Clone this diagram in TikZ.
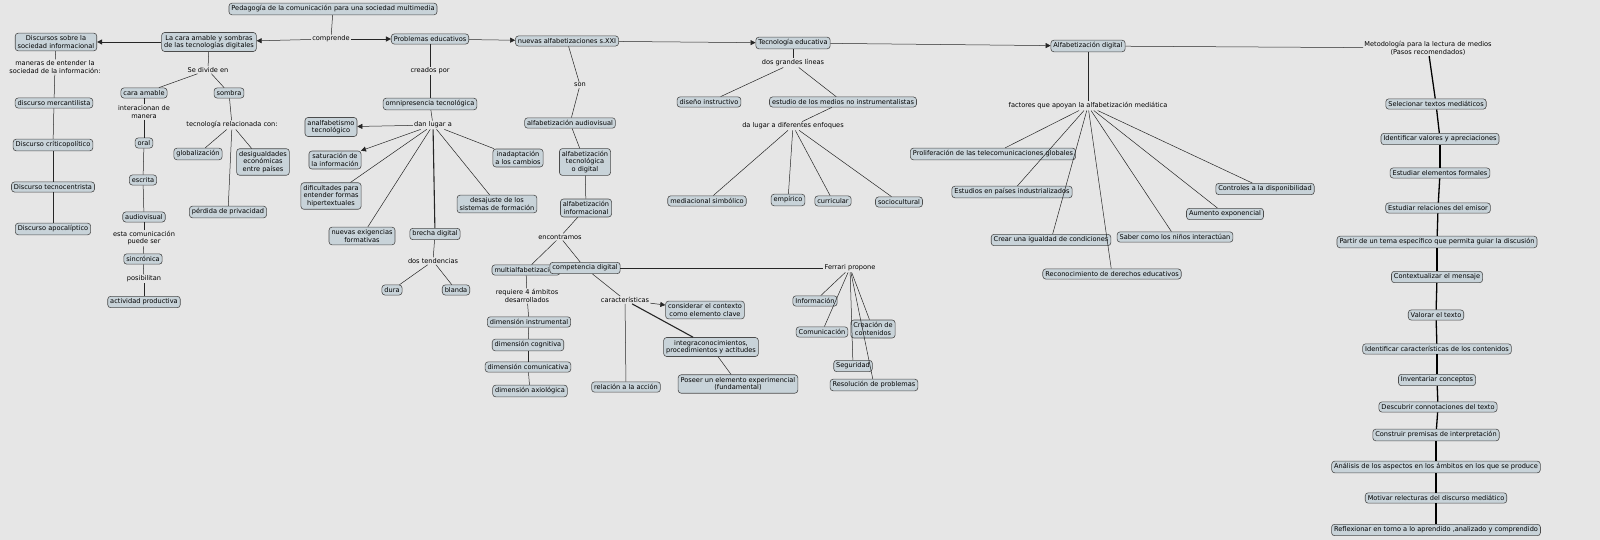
\documentclass[tikz,border=0pt]{standalone}
\usepackage{fontspec}
\setmainfont{DejaVu Sans}
\usetikzlibrary{arrows.meta}
\definecolor{bg}{RGB}{230,230,230}
\definecolor{boxc}{RGB}{200,211,217}
\begin{document}
\begin{tikzpicture}[x=1pt,y=-1pt,
 bx/.style={draw=black!70,fill=boxc,rounded corners=3pt,align=center,font=\fontsize{6.6}{7.6}\selectfont,inner sep=2.5pt,line width=0.6pt},
 lb/.style={align=center,font=\fontsize{6.6}{7.6}\selectfont,inner sep=1pt,fill=bg},
 ln/.style={draw=black!85,line width=0.5pt},
 ar/.style={ln,-{Triangle[length=5pt,width=5pt]}},
 tk/.style={draw=black,line width=1.3pt}]
\fill[bg] (0,0) rectangle (1600,540);
\useasboundingbox (0,0) rectangle (1600,540);
% top
\node[bx] (title) at (333,9) {Pedagogía de la comunicación para una sociedad multimedia};
\node[lb] (compr) at (331,39) {comprende};
\node[bx] (cara) at (209,42) {La cara amable y sombras\\de las tecnologías digitales};
\node[bx] (disc) at (56,42) {Discursos sobre la\\sociedad informacional};
\node[bx] (prob) at (430,39) {Problemas educativos};
\node[bx] (nuev) at (567,41) {nuevas alfabetizaciones s.XXI};
\node[bx] (tec) at (793,43) {Tecnología educativa};
\node[bx] (alfd) at (1088,46) {Alfabetización digital};
\node[lb] (met) at (1428,48) {Metodología para la lectura de medios\\(Pasos recomendados)};
\draw[ln] (title) -- (compr);
\draw[ar] (compr) -- (cara);
\draw[ar] (compr) -- (prob);
\draw[ar] (cara) -- (disc);
\draw[ar] (prob) -- (nuev);
\draw[ar] (nuev) -- (tec);
\draw[ar] (tec) -- (alfd);
\draw[ln] (alfd) -- (met);
% left
\node[lb] (maner) at (55,67) {maneras de entender la\\sociedad de la información:};
\node[bx] (d1) at (54,103) {discurso mercantilista};
\node[bx] (d2) at (53,145) {Discurso críticopolítico};
\node[bx] (d3) at (53,187) {Discurso tecnocentrista};
\node[bx] (d4) at (53,229) {Discurso apocalíptico};
\draw[ln] (disc)--(maner); \draw[ln] (maner)--(d1); \draw[ln] (d1)--(d2); \draw[ln] (d2)--(d3); \draw[ln] (d3)--(d4);
\node[lb] (sedi) at (208,70) {Se divide en};
\node[bx] (cam) at (144,93) {cara amable};
\node[bx] (somb) at (229,93) {sombra};
\draw[ln] (cara)--(sedi); \draw[ln] (sedi)--(cam); \draw[ln] (sedi)--(somb);
\node[lb] (inter) at (144,112) {interacionan de\\manera};
\node[bx] (oral) at (144,143) {oral};
\node[bx] (escr) at (143,180) {escrita};
\node[bx] (audv) at (144,217) {audiovisual};
\node[lb] (esta) at (144,238) {esta comunicación\\puede ser};
\node[bx] (sinc) at (143,259) {sincrónica};
\node[lb] (posib) at (144,279) {posibilitan};
\node[bx] (activ) at (144,302) {actividad productiva};
\draw[ln] (cam)--(inter); \draw[ln] (inter)--(oral); \draw[ln] (oral)--(escr); \draw[ln] (escr)--(audv);
\draw[ln] (audv)--(esta); \draw[ln] (esta)--(sinc); \draw[ln] (sinc)--(posib); \draw[ln] (posib)--(activ);
\node[lb] (trel) at (232,125) {tecnología relacionada con:};
\node[bx] (glob) at (198,154) {globalización};
\node[bx] (desig) at (263,162) {desigualdades\\económicas\\entre países};
\node[bx] (perd) at (228,212) {pérdida de privacidad};
\draw[ln] (somb)--(trel); \draw[ln] (trel)--(glob); \draw[ln] (trel)--(desig); \draw[ln] (trel)--(perd);
% problemas
\node[lb] (crea) at (430,71) {creados por};
\node[bx] (omni) at (430,104) {omnipresencia tecnológica};
\node[lb] (dan) at (433,125) {dan lugar a};
\node[bx] (analf) at (331,127) {analfabetismo\\tecnológico};
\node[bx] (satur) at (335,160) {saturación de\\la información};
\node[bx] (dific) at (331,196) {dificultades para\\entender formas\\hipertextuales};
\node[bx] (nexig) at (362,236) {nuevas exigencias\\formativas};
\node[bx] (brech) at (435,234) {brecha digital};
\node[bx] (inad) at (518,158) {inadaptación\\a los cambios};
\node[bx] (desaj) at (497,204) {desajuste de los\\sistemas de formación};
\node[lb] (dost) at (433,261) {dos tendencias};
\node[bx] (dura) at (392,290) {dura};
\node[bx] (bland) at (456,290) {blanda};
\draw[ln] (prob)--(crea); \draw[ln] (crea)--(omni); \draw[ln] (omni)--(dan);
\draw[ar] (dan)--(analf); \draw[ar] (dan)--(satur);
\draw[ln] (dan)--(dific); \draw[ln] (dan)--(nexig); \draw[ln,line width=1.1pt] (dan)--(brech);
\draw[ln] (dan)--(inad); \draw[ln] (dan)--(desaj);
\draw[ln] (brech)--(dost); \draw[ln] (dost)--(dura); \draw[ln] (dost)--(bland);
% nuevas alfabetizaciones
\node[lb] (son) at (580,85) {son};
\node[bx] (aav) at (570,123) {alfabetización audiovisual};
\node[bx] (atd) at (585,162) {alfabetización\\tecnológica\\o digital};
\node[bx] (ainf) at (586,208) {alfabetización\\informacional};
\node[lb] (enc) at (560,237) {encontramos};
\node[bx] (multi) at (526,270) {multialfabetización};
\node[bx] (comp) at (585,268) {competencia digital};
\draw[ln] (nuev)--(son); \draw[ln] (son)--(aav); \draw[ln] (aav)--(atd); \draw[ln] (atd)--(ainf);
\draw[ln] (ainf)--(enc); \draw[ln] (enc)--(multi); \draw[ln] (enc)--(comp);
\node[lb] (req) at (527,296) {requiere 4 ámbitos\\desarrollados};
\node[bx] (di1) at (529,322) {dimensión instrumental};
\node[bx] (di2) at (528,345) {dimensión cognitiva};
\node[bx] (di3) at (528,367) {dimensión comunicativa};
\node[bx] (di4) at (530,391) {dimensión axiológica};
\draw[ln] (multi)--(req); \draw[ln] (req)--(di1); \draw[ln] (di1)--(di2); \draw[ln] (di2)--(di3); \draw[ln] (di3)--(di4);
\node[lb] (carac) at (625,300) {características};
\node[bx] (cons) at (705,310) {considerar el contexto\\como elemento clave};
\node[bx] (integ) at (711,347) {integraconocimientos,\\procedimientos y actitudes};
\node[bx] (rel) at (626,387) {relación a la acción};
\node[bx] (pose) at (738,384) {Poseer un elemento experimencial\\(fundamental)};
\draw[ln] (comp)--(carac); \draw[ar] (carac)--(cons); \draw[ln,line width=1.1pt] (carac)--(integ);
\draw[ln] (carac)--(rel); \draw[ln] (integ)--(pose);
\node[lb] (ferr) at (850,268) {Ferrari propone};
\node[bx] (info) at (815,301) {Información};
\node[bx] (comu) at (822,332) {Comunicación};
\node[bx] (creac) at (873,329) {Creación de\\contenidos};
\node[bx] (seg) at (853,366) {Seguridad};
\node[bx] (resol) at (874,385) {Resolución de problemas};
\draw[ln] (comp)--(ferr); \draw[ln] (ferr)--(info); \draw[ln] (ferr)--(comu); \draw[ln] (ferr)--(creac);
\draw[ln] (ferr)--(seg); \draw[ln] (ferr)--(resol);
% tecnologia educativa
\node[lb] (dosg) at (793,63) {dos grandes líneas};
\node[bx] (dise) at (709,102) {diseño instructivo};
\node[bx] (estu) at (843,102) {estudio de los medios no instrumentalistas};
\node[lb] (dalu) at (793,126) {da lugar a diferentes enfoques};
\node[bx] (medi) at (707,201) {mediacional simbólico};
\node[bx] (empi) at (788,200) {empírico};
\node[bx] (curr) at (833,201) {curricular};
\node[bx] (soci) at (899,202) {sociocultural};
\draw[ln] (tec)--(dosg); \draw[ln] (dosg)--(dise); \draw[ln] (dosg)--(estu);
\draw[ln] (estu)--(dalu); \draw[ln] (dalu)--(medi); \draw[ln] (dalu)--(empi); \draw[ln] (dalu)--(curr); \draw[ln] (dalu)--(soci);
% alfabetizacion digital
\node[lb] (fact) at (1088,106) {factores que apoyan la alfabetización mediática};
\node[bx] (f1) at (993,154) {Proliferación de las telecomunicaciones globales};
\node[bx] (f2) at (1012,192) {Estudios en países industrializados};
\node[bx] (f3) at (1051,240) {Crear una igualdad de condiciones};
\node[bx] (f4) at (1112,274) {Reconocimiento de derechos educativos};
\node[bx] (f5) at (1175,237) {Saber como los niños interactúan};
\node[bx] (f6) at (1225,214) {Aumento exponencial};
\node[bx] (f7) at (1265,189) {Controles a la disponibilidad};
\draw[ln] (alfd)--(fact);
\foreach \f in {f1,f2,f3,f4,f5,f6,f7} \draw[ln] (fact)--(\f);
% metodologia
\node[bx] (m1) at (1436,104) {Selecionar textos mediáticos};
\node[bx] (m2) at (1440,139) {Identificar valores y apreciaciones};
\node[bx] (m3) at (1440,173) {Estudiar elementos formales};
\node[bx] (m4) at (1438,208) {Estudiar relaciones del emisor};
\node[bx] (m5) at (1437,242) {Partir de un tema específico que permita guiar la discusión};
\node[bx] (m6) at (1437,277) {Contextualizar el mensaje};
\node[bx] (m7) at (1436,315) {Valorar el texto};
\node[bx] (m8) at (1437,349) {Identificar características de los contenidos};
\node[bx] (m9) at (1437,380) {Inventariar conceptos};
\node[bx] (m10) at (1438,407) {Descubrir connotaciones del texto};
\node[bx] (m11) at (1436,435) {Construir premisas de interpretación};
\node[bx] (m12) at (1436,467) {Análisis de los aspectos en los ámbitos en los que se produce};
\node[bx] (m13) at (1436,498) {Motivar relecturas del discurso mediático};
\node[bx] (m14) at (1436,530) {Reflexionar en torno a lo aprendido ,analizado y comprendido};
\draw[tk] (met)--(m1);
\foreach \a/\b in {m1/m2,m2/m3,m3/m4,m4/m5,m5/m6,m6/m7,m7/m8,m8/m9,m9/m10,m10/m11,m11/m12,m12/m13,m13/m14} \draw[tk] (\a)--(\b);
\end{tikzpicture}
\end{document}
